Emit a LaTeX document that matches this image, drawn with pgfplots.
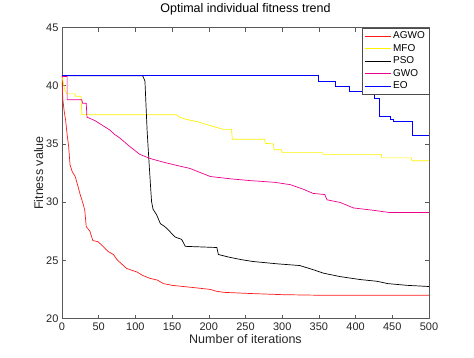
\documentclass[border=0pt]{standalone}
\usepackage{pgfplots}
\pgfplotsset{compat=1.18}
\usepackage{fontspec}
\setmainfont{Liberation Sans}
\begin{document}
\begin{tikzpicture}
\begin{axis}[
  name=ax,
  scale only axis,
  width=367pt, height=291pt,
  xmin=0, xmax=500, ymin=20, ymax=45,
  xtick={0,50,...,500}, ytick={20,25,...,45},
  tick pos=both, tick align=inside,
  major tick length=4pt,
  axis line style={black!65, line width=0.6pt},
  every tick/.style={black!65, line width=0.5pt},
  /pgf/number format/assume math mode=true,
  ticklabel style={font=\fontsize{11}{13}\selectfont, text=black!85},
  xticklabel style={yshift=-1pt},
  title={Optimal individual fitness trend},
  title style={font=\fontsize{12.5}{14}\selectfont, at={(0.5,1)}, anchor=south, yshift=3pt},
  xlabel={Number of iterations},
  ylabel={Fitness value},
  label style={font=\fontsize{12.5}{14}\selectfont, text=black!85},
  xlabel style={yshift=3pt},
  ylabel style={yshift=-4pt},
  legend cell align=left,
  legend style={at={(1,1)}, anchor=north east, draw=black!70, fill=white,
    font=\fontsize{10}{12}\selectfont, inner sep=2pt, row sep=0pt,
    legend image code/.code={\draw[#1] (0pt,0pt) -- (26pt,0pt);}},
  every axis plot/.append style={line width=0.7pt},
]
\addplot[red!90!white] coordinates {
(0,40.8)(1,38.9)(3,37.8)(5,37.0)(7,35.8)(9,34.8)(11,33.2)(14,32.6)(18,32.2)(22,31.3)(25,30.6)
(29,29.8)(31,29.3)(33,27.9)(38,27.5)(42,26.7)(49,26.6)(56,26.2)(63,25.75)(70,25.5)(75,25.05)
(88,24.3)(102,24.0)(110,23.7)(120,23.45)(130,23.3)(138,23.0)(150,22.85)(165,22.75)(185,22.62)
(202,22.5)(210,22.35)(220,22.25)(256,22.15)(300,22.05)(350,22.0)(500,22.0)
};
\addlegendentry{AGWO}
\addplot[yellow] coordinates {
(0,40.8)(2,40.2)(4,39.6)(7,39.3)(18,39.3)(18,39.1)(26,39.1)(27,37.5)(156,37.5)(160,37.3)
(170,37.1)(185,36.9)(195,36.7)(206,36.5)(220,36.25)(231,36.25)(232,35.4)(276,35.4)(277,35.05)
(288,35.0)(289,34.5)(299,34.5)(300,34.25)(355,34.25)(356,34.1)(435,34.1)(436,33.8)(476,33.8)
(477,33.55)(500,33.55)
};
\addlegendentry{MFO}
\addplot[black] coordinates {
(0,40.85)(110,40.85)(113,40.4)(116,36.1)(118,34)(120,32.0)(122,30.05)(124,29.4)(129,28.9)
(134,28.15)(140,27.9)(145,27.6)(154,27.0)(163,26.8)(168,26.2)(211,26.1)(213,25.5)(229,25.25)
(245,25.05)(260,24.9)(293,24.7)(324,24.55)(342,24.2)(356,23.9)(379,23.6)(406,23.35)
(429,23.2)(444,23.0)(470,22.85)(500,22.75)
};
\addlegendentry{PSO}
\addplot[magenta] coordinates {
(0,40.8)(7,40.8)(7,38.8)(27,38.8)(28,38.5)(33,38.5)(34,37.3)(45,37.0)(55,36.6)(65,36.2)
(72,35.8)(79,35.5)(90,34.9)(100,34.4)(106,34.1)(120,33.75)(140,33.4)(160,33.1)(174,32.9)
(190,32.5)(202,32.2)(230,32.0)(256,31.85)(290,31.7)(311,31.5)(329,31.1)(342,30.75)(358,30.65)
(361,30.2)(379,29.97)(397,29.5)(424,29.3)(447,29.1)(500,29.1)
};
\addlegendentry{GWO}
\addplot[blue] coordinates {
(0,40.85)(349,40.85)(349,40.4)(373,40.4)(373,39.95)(391,39.95)(391,39.5)(425,39.5)(425,38.9)
(432,38.9)(432,37.4)(447,37.4)(447,37.1)(451,37.1)(451,36.9)(477,36.9)(477,35.7)(500,35.7)
};
\addlegendentry{EO}
\end{axis}
\path ([shift={(-62pt,-39pt)}]ax.south west) rectangle ([shift={(45pt,26pt)}]ax.north east);
\end{tikzpicture}
\end{document}
